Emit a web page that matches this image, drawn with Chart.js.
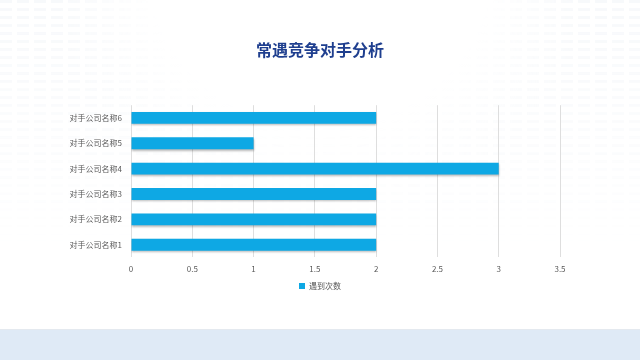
<!DOCTYPE html>
<html>
<head>
<meta charset="utf-8">
<script src="https://cdn.jsdelivr.net/npm/chart.js@4"></script>
<style>
  html, body { margin: 0; padding: 0; background: #fff; }
  #page { position: relative; width: 640px; height: 360px; overflow: hidden; background: #fff; }
  /* faint dashed decoration at the top */
  #deco {
    position: absolute; left: 0; top: 0; width: 640px; height: 260px;
    background:
      repeating-linear-gradient(to right, transparent 0 12px, #fff 12px 17px),
      repeating-linear-gradient(to bottom, #edf1f6 0 3px, transparent 3px 8px);
    -webkit-mask-image: radial-gradient(ellipse 280px 250px at 50% -30px, transparent 60%, rgba(0,0,0,0.8) 95%), linear-gradient(to bottom, #000 0, transparent 250px);
    -webkit-mask-composite: source-in;
    mask-composite: intersect;
    opacity: 0.55;
  }
  #band {
    position: absolute; left: 0; top: 329px; width: 640px; height: 31px;
    background: #dfeaf6; border-top: 1px solid #e4e9ef;
  }
  #wrap { position: absolute; left: 0; top: 0; width: 640px; height: 360px; }
</style>
</head>
<body>
<div id="page">
  <div id="deco"></div>
  <div id="band"></div>
  <div id="wrap"><canvas id="competitorChart"></canvas></div>
</div>
<script>
/* ---------------- DATA ---------------- */
const companies = ["对手公司名称1", "对手公司名称2", "对手公司名称3", "对手公司名称4", "对手公司名称5", "对手公司名称6"];
const meetCounts = [2, 2, 2, 3, 1, 2];
const seriesName = "遇到次数";
const chartTitle = "常遇竞争对手分析";

const barColor = "#0ea8e4";
const cjkFont = "'Noto Sans CJK SC', 'Noto Sans', sans-serif";

// soft shadow under bars
const barShadow = {
  id: "barShadow",
  beforeDatasetsDraw(chart) {
    const ctx = chart.ctx;
    ctx.save();
    ctx.shadowColor = "rgba(0,0,0,0.28)";
    ctx.shadowBlur = 2;
    ctx.shadowOffsetY = 1.5;
  },
  afterDatasetsDraw(chart) {
    chart.ctx.restore();
  },
};

const ctx = document.getElementById("competitorChart").getContext("2d");

new Chart(ctx, {
  type: "bar",
  data: {
    labels: companies,
    datasets: [
      {
        label: seriesName,
        data: meetCounts,
        backgroundColor: barColor,
        borderWidth: 0,
        barPercentage: 0.47,
        categoryPercentage: 1,
      },
    ],
  },
  options: {
    indexAxis: "y",
    responsive: true,
    maintainAspectRatio: false,
    animation: false,
    layout: { padding: { left: 0, right: 0, top: 0, bottom: 60 } },
    plugins: {
      title: {
        display: true,
        text: chartTitle,
        color: "#1f3f8f",
        font: { family: cjkFont, size: 16, weight: "bold" },
        padding: { top: 40, bottom: 46 },
      },
      legend: {
        display: true,
        position: "bottom",
        labels: {
          color: "#595959",
          font: { family: cjkFont, size: 8 },
          boxWidth: 6,
          boxHeight: 6,
          padding: 1,
        },
      },
      tooltip: { enabled: false },
    },
    scales: {
      x: {
        min: 0,
        max: 3.5,
        ticks: {
          stepSize: 0.5,
          color: "#595959",
          font: { family: cjkFont, size: 8 },
          padding: 7,
          callback: (v) => String(v),
        },
        grid: { color: "#dedede", drawTicks: false },
        border: { display: false },
      },
      y: {
        reverse: true,
        ticks: {
          color: "#595959",
          font: { family: cjkFont, size: 8 },
          padding: 1,
        },
        grid: { display: false },
        border: { display: false },
        afterFit(scale) {
          scale.width = 131;
        },
      },
      // empty right-hand spacer so title and legend stay centred on the page
      yRight: {
        type: "category",
        position: "right",
        labels: companies,
        ticks: { display: false },
        grid: { display: false },
        border: { display: false },
        afterFit(scale) {
          scale.width = 80;
        },
      },
    },
  },
  plugins: [barShadow],
});
</script>
</body>
</html>
